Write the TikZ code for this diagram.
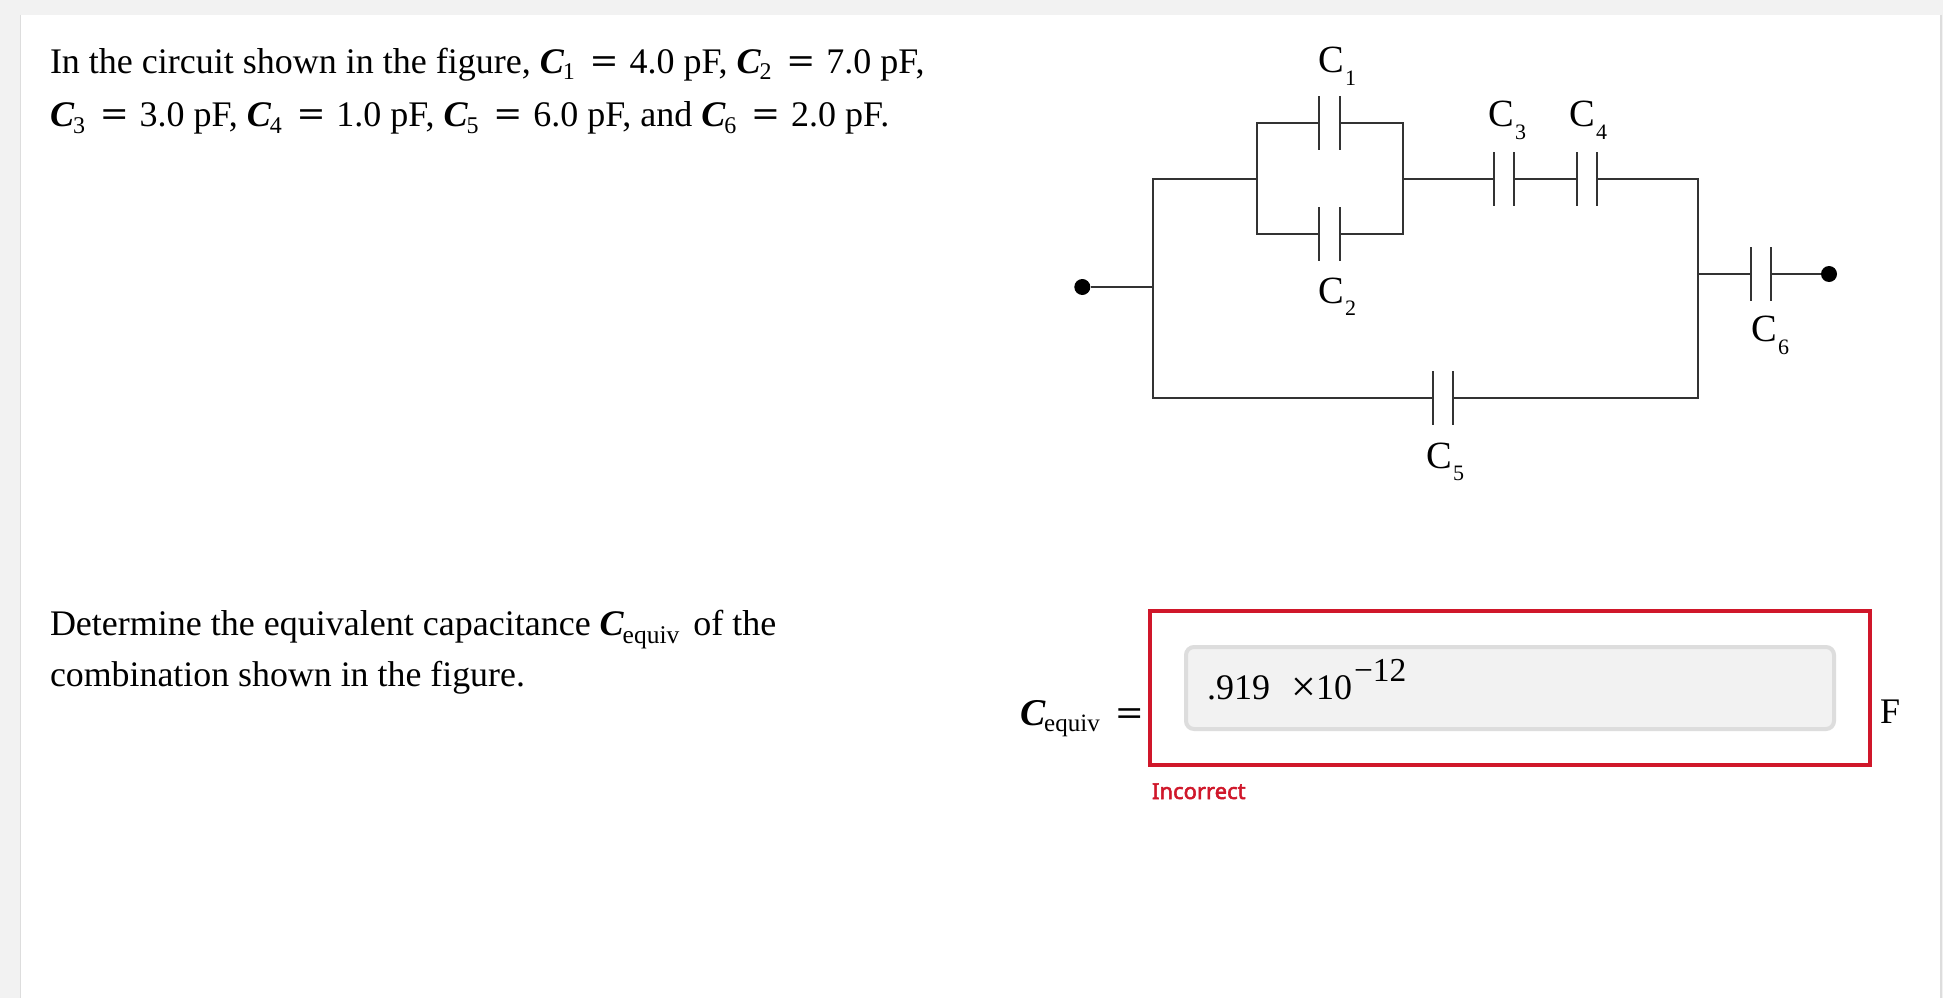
\documentclass[tikz,border=0pt]{standalone}
\usepackage{graphicx}
\usepackage{fontspec}
\setmainfont{Liberation Serif}
\newfontfamily\uifont[FakeBold=2.4]{Noto Sans}
\definecolor{pagegray}{HTML}{F2F2F2}
\definecolor{edgegray}{HTML}{DDDDDD}
\definecolor{wirecol}{HTML}{333333}
\definecolor{errred}{HTML}{D0172A}
\newcommand{\bodysize}{\fontsize{36}{45}\selectfont}
\newcommand{\subsize}{\fontsize{24}{28}\selectfont}
\newcommand{\symC}[1]{{\bfseries\itshape C}\kern-1pt\raisebox{-6.5pt}{\subsize #1}}
\newcommand{\symCeq}{{\bfseries\itshape C}\kern-1pt\raisebox{-8pt}{\fontsize{25.5}{30}\selectfont equiv}}
\newcommand{\eqsign}{\scalebox{1.3}[1]{\bfseries =}}
\newcommand{\eqgap}{\hspace{16pt}\eqsign\hspace{12pt}}
\newcommand{\figlabel}[1]{{\fontsize{38.5}{45}\selectfont C}\kern1.5pt\raisebox{-12.5pt}{\fontsize{22}{26}\selectfont #1}}
\newcommand{\capac}[4]{%
  \coordinate (#1l) at (#2,#4);
  \coordinate (#1r) at (#3,#4);
  \draw[wire] ([yshift=27pt]#1l) -- ([yshift=-27pt]#1l);
  \draw[wire] ([yshift=27pt]#1r) -- ([yshift=-27pt]#1r);}
\tikzset{
  wire/.style={draw=wirecol,line width=2.1pt,line cap=butt,line join=miter},
  txt/.style={anchor=base west,inner sep=0pt,outer sep=0pt,font=\bodysize,text=black},
  terminal/.style={circle,fill=black,inner sep=0pt,minimum size=16pt},
}
\begin{document}
\begin{tikzpicture}[x=1pt,y=-1pt]
\useasboundingbox (0,0) rectangle (1943,998);
\fill[pagegray] (0,0) rectangle (1943,998);
\fill[white] (20,15) rectangle (1940,998);
\draw[edgegray,line width=1pt] (20,15) -- (20,998);
\draw[edgegray,line width=2pt] (1941,15) -- (1941,998);

% Question text
\node[txt] (line1) at (50,73.3) {In the circuit shown in the figure, \symC{1}\eqgap 4.0 pF, \symC{2}\eqgap 7.0 pF,};
\node[txt] (line2) at (50,126.7) {\symC{3}\eqgap 3.0 pF, \symC{4}\eqgap 1.0 pF, \symC{5}\eqgap 6.0 pF, and \symC{6}\eqgap 2.0 pF.};
\node[txt] (line3) at (50,635) {Determine the equivalent capacitance \symCeq\hspace{5pt} of the};
\node[txt,font=\fontsize{35.85}{45}\selectfont] (line4) at (50,686.7) {combination shown in the figure.};

% Circuit
\capac{c1}{1319.3}{1340}{123}
\capac{c2}{1319.3}{1340}{234}
\capac{c3}{1493.7}{1514}{179}
\capac{c4}{1576.7}{1597}{179}
\capac{c5}{1433}{1453}{398}
\capac{c6}{1750.7}{1771}{274}
\coordinate (pl) at (1257,179);
\coordinate (pr) at (1403,179);
\coordinate (wl) at (1153,179);
\coordinate (wb) at (1153,398);
\coordinate (er) at (1698,179);
\coordinate (eb) at (1698,398);
\coordinate (jl) at (1153,287);
\coordinate (jr) at (1698,274);
\node[terminal] (tl) at (1082.3,287) {};
\node[terminal] (tr) at (1829,274) {};
\draw[wire] (c1l) -| (pl) |- (c2l);
\draw[wire] (c1r) -| (pr) |- (c2r);
\draw[wire] (pl) -- (wl) -- (wb) -- (c5l);
\draw[wire] (pr) -- (c3l);
\draw[wire] (c3r) -- (c4l);
\draw[wire] (c4r) -- (er) -- (eb) -- (c5r);
\draw[wire] (tl) -- (jl);
\draw[wire] (jr) -- (c6l);
\draw[wire] (c6r) -- (tr);
\node[txt] (l1) at (1318,73) {\figlabel{1}};
\node[txt] (l2) at (1318,303) {\figlabel{2}};
\node[txt] (l3) at (1488,126.7) {\figlabel{3}};
\node[txt] (l4) at (1569,126.7) {\figlabel{4}};
\node[txt] (l5) at (1426,468) {\figlabel{5}};
\node[txt] (l6) at (1751,341.7) {\figlabel{6}};

% Answer
\node[txt,font=\fontsize{37.8}{45}\selectfont] (ceq) at (1020,725) {{\bfseries\itshape C}\kern-1pt\raisebox{-6pt}{\fontsize{25}{30}\selectfont equiv}};
\node[txt] (eqs) at (1116,725.5) {\eqsign};
\draw[errred,line width=4pt] (1150,611) rectangle (1870,765);
\draw[edgegray,fill=pagegray,line width=4pt,rounded corners=8pt] (1186,647) rectangle (1834,729);
\node[txt] (val) at (1207,699.3) {.919};
\node[txt,font=\fontsize{44}{50}\selectfont] (times) at (1291,701) {×};
\node[txt] (ten) at (1316,699.3) {10};
\node[txt,font=\fontsize{33.5}{38}\selectfont] (exp) at (1354,681.7) {−12};
\node[txt] (unit) at (1880,723.3) {F};
\node[txt,font=\uifont\fontsize{22}{26}\selectfont,text=errred] (inc) at (1152,799) {Incorrect};
\end{tikzpicture}
\end{document}
